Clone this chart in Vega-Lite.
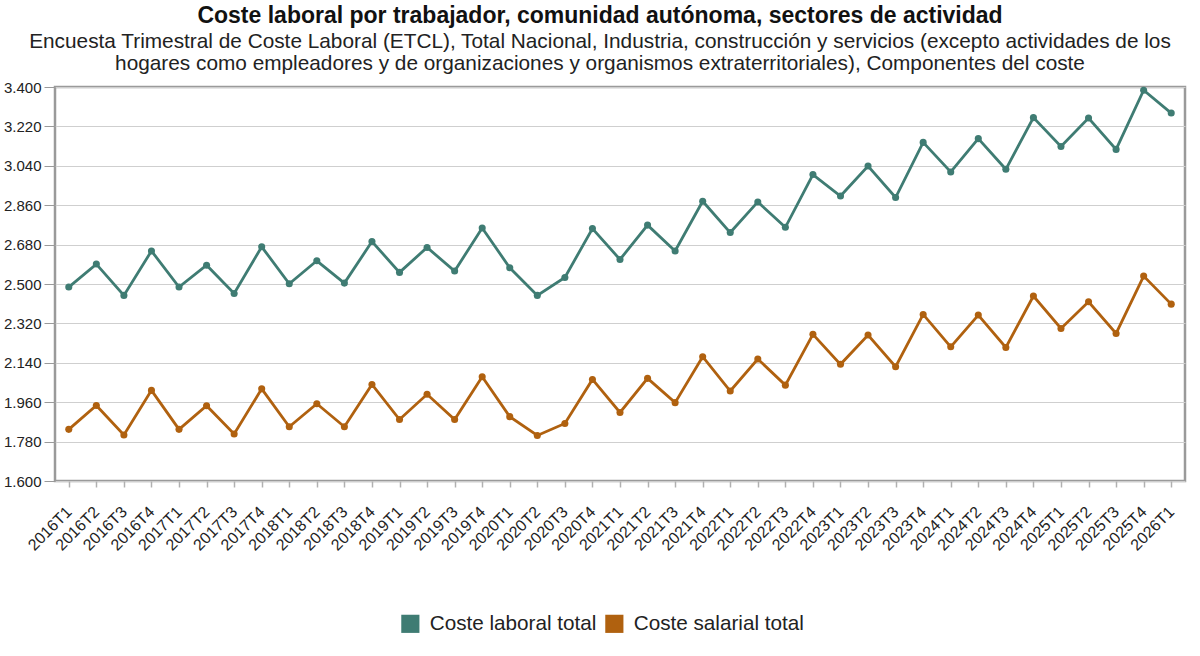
{
  "$schema": "https://vega.github.io/schema/vega-lite/v6.json",
  "width": 1130,
  "height": 394,
  "autosize": {"type": "none"},
  "padding": {"left": 55, "top": 87, "right": 15, "bottom": 175},
  "background": "#ffffff",
  "title": {
    "text": "Coste laboral por trabajador, comunidad autónoma, sectores de actividad",
    "subtitle": [
      "Encuesta Trimestral de Coste Laboral (ETCL), Total Nacional, Industria, construcción y servicios (excepto actividades de los",
      "hogares como empleadores y de organizaciones y organismos extraterritoriales), Componentes del coste"
    ],
    "anchor": "middle",
    "dx": -20,
    "offset": 6,
    "font": "Liberation Sans",
    "fontSize": 23,
    "fontWeight": "bold",
    "color": "#111111",
    "subtitleFont": "Liberation Sans",
    "subtitleFontSize": 20.8,
    "subtitleColor": "#222222",
    "subtitleLineHeight": 22,
    "subtitlePadding": 4
  },
  "config": {
    "view": {"stroke": "#9a9a9a", "strokeWidth": 2.5},
    "font": "Liberation Sans"
  },
  "data": {
    "values": [
      {"trimestre": "2016T1", "serie": "Coste laboral total", "valor": 2486},
      {"trimestre": "2016T2", "serie": "Coste laboral total", "valor": 2591},
      {"trimestre": "2016T3", "serie": "Coste laboral total", "valor": 2448},
      {"trimestre": "2016T4", "serie": "Coste laboral total", "valor": 2651},
      {"trimestre": "2017T1", "serie": "Coste laboral total", "valor": 2486},
      {"trimestre": "2017T2", "serie": "Coste laboral total", "valor": 2586},
      {"trimestre": "2017T3", "serie": "Coste laboral total", "valor": 2457},
      {"trimestre": "2017T4", "serie": "Coste laboral total", "valor": 2670},
      {"trimestre": "2018T1", "serie": "Coste laboral total", "valor": 2501},
      {"trimestre": "2018T2", "serie": "Coste laboral total", "valor": 2606},
      {"trimestre": "2018T3", "serie": "Coste laboral total", "valor": 2504},
      {"trimestre": "2018T4", "serie": "Coste laboral total", "valor": 2694},
      {"trimestre": "2019T1", "serie": "Coste laboral total", "valor": 2553},
      {"trimestre": "2019T2", "serie": "Coste laboral total", "valor": 2667},
      {"trimestre": "2019T3", "serie": "Coste laboral total", "valor": 2559},
      {"trimestre": "2019T4", "serie": "Coste laboral total", "valor": 2756},
      {"trimestre": "2020T1", "serie": "Coste laboral total", "valor": 2574},
      {"trimestre": "2020T2", "serie": "Coste laboral total", "valor": 2448},
      {"trimestre": "2020T3", "serie": "Coste laboral total", "valor": 2530},
      {"trimestre": "2020T4", "serie": "Coste laboral total", "valor": 2753},
      {"trimestre": "2021T1", "serie": "Coste laboral total", "valor": 2612},
      {"trimestre": "2021T2", "serie": "Coste laboral total", "valor": 2769},
      {"trimestre": "2021T3", "serie": "Coste laboral total", "valor": 2651},
      {"trimestre": "2021T4", "serie": "Coste laboral total", "valor": 2878},
      {"trimestre": "2022T1", "serie": "Coste laboral total", "valor": 2735},
      {"trimestre": "2022T2", "serie": "Coste laboral total", "valor": 2875},
      {"trimestre": "2022T3", "serie": "Coste laboral total", "valor": 2759},
      {"trimestre": "2022T4", "serie": "Coste laboral total", "valor": 3000},
      {"trimestre": "2023T1", "serie": "Coste laboral total", "valor": 2902},
      {"trimestre": "2023T2", "serie": "Coste laboral total", "valor": 3039},
      {"trimestre": "2023T3", "serie": "Coste laboral total", "valor": 2895},
      {"trimestre": "2023T4", "serie": "Coste laboral total", "valor": 3147},
      {"trimestre": "2024T1", "serie": "Coste laboral total", "valor": 3012},
      {"trimestre": "2024T2", "serie": "Coste laboral total", "valor": 3164},
      {"trimestre": "2024T3", "serie": "Coste laboral total", "valor": 3024},
      {"trimestre": "2024T4", "serie": "Coste laboral total", "valor": 3260},
      {"trimestre": "2025T1", "serie": "Coste laboral total", "valor": 3128},
      {"trimestre": "2025T2", "serie": "Coste laboral total", "valor": 3258},
      {"trimestre": "2025T3", "serie": "Coste laboral total", "valor": 3115},
      {"trimestre": "2025T4", "serie": "Coste laboral total", "valor": 3385},
      {"trimestre": "2026T1", "serie": "Coste laboral total", "valor": 3281},
      {"trimestre": "2016T1", "serie": "Coste salarial total", "valor": 1836},
      {"trimestre": "2016T2", "serie": "Coste salarial total", "valor": 1945},
      {"trimestre": "2016T3", "serie": "Coste salarial total", "valor": 1810},
      {"trimestre": "2016T4", "serie": "Coste salarial total", "valor": 2014},
      {"trimestre": "2017T1", "serie": "Coste salarial total", "valor": 1836},
      {"trimestre": "2017T2", "serie": "Coste salarial total", "valor": 1944},
      {"trimestre": "2017T3", "serie": "Coste salarial total", "valor": 1815},
      {"trimestre": "2017T4", "serie": "Coste salarial total", "valor": 2021},
      {"trimestre": "2018T1", "serie": "Coste salarial total", "valor": 1848},
      {"trimestre": "2018T2", "serie": "Coste salarial total", "valor": 1953},
      {"trimestre": "2018T3", "serie": "Coste salarial total", "valor": 1848},
      {"trimestre": "2018T4", "serie": "Coste salarial total", "valor": 2041},
      {"trimestre": "2019T1", "serie": "Coste salarial total", "valor": 1881},
      {"trimestre": "2019T2", "serie": "Coste salarial total", "valor": 1996},
      {"trimestre": "2019T3", "serie": "Coste salarial total", "valor": 1881},
      {"trimestre": "2019T4", "serie": "Coste salarial total", "valor": 2076},
      {"trimestre": "2020T1", "serie": "Coste salarial total", "valor": 1894},
      {"trimestre": "2020T2", "serie": "Coste salarial total", "valor": 1808},
      {"trimestre": "2020T3", "serie": "Coste salarial total", "valor": 1863},
      {"trimestre": "2020T4", "serie": "Coste salarial total", "valor": 2064},
      {"trimestre": "2021T1", "serie": "Coste salarial total", "valor": 1913},
      {"trimestre": "2021T2", "serie": "Coste salarial total", "valor": 2069},
      {"trimestre": "2021T3", "serie": "Coste salarial total", "valor": 1958},
      {"trimestre": "2021T4", "serie": "Coste salarial total", "valor": 2168},
      {"trimestre": "2022T1", "serie": "Coste salarial total", "valor": 2011},
      {"trimestre": "2022T2", "serie": "Coste salarial total", "valor": 2157},
      {"trimestre": "2022T3", "serie": "Coste salarial total", "valor": 2038},
      {"trimestre": "2022T4", "serie": "Coste salarial total", "valor": 2270},
      {"trimestre": "2023T1", "serie": "Coste salarial total", "valor": 2133},
      {"trimestre": "2023T2", "serie": "Coste salarial total", "valor": 2267},
      {"trimestre": "2023T3", "serie": "Coste salarial total", "valor": 2122},
      {"trimestre": "2023T4", "serie": "Coste salarial total", "valor": 2361},
      {"trimestre": "2024T1", "serie": "Coste salarial total", "valor": 2213},
      {"trimestre": "2024T2", "serie": "Coste salarial total", "valor": 2358},
      {"trimestre": "2024T3", "serie": "Coste salarial total", "valor": 2210},
      {"trimestre": "2024T4", "serie": "Coste salarial total", "valor": 2445},
      {"trimestre": "2025T1", "serie": "Coste salarial total", "valor": 2297},
      {"trimestre": "2025T2", "serie": "Coste salarial total", "valor": 2419},
      {"trimestre": "2025T3", "serie": "Coste salarial total", "valor": 2274},
      {"trimestre": "2025T4", "serie": "Coste salarial total", "valor": 2536},
      {"trimestre": "2026T1", "serie": "Coste salarial total", "valor": 2408}
    ]
  },
  "mark": {
    "type": "line",
    "strokeWidth": 2.8,
    "point": {"filled": true, "size": 50, "opacity": 1}
  },
  "encoding": {
    "x": {
      "field": "trimestre",
      "type": "ordinal",
      "sort": null,
      "title": null,
      "scale": {"paddingInner": 0, "paddingOuter": 0.5},
      "axis": {
        "labelAngle": -45,
        "labelAlign": "right",
        "labelBaseline": "middle",
        "labelPadding": 22,
        "labelFontSize": 16,
        "labelColor": "#222222",
        "labelFont": "Liberation Sans",
        "bandPosition": 0,
        "ticks": true,
        "tickSize": 6,
        "tickColor": "#b0b0b0",
        "tickWidth": 1.5,
        "domain": false,
        "grid": false
      }
    },
    "y": {
      "field": "valor",
      "type": "quantitative",
      "title": null,
      "scale": {"domain": [1600, 3400], "nice": false, "zero": false},
      "axis": {
        "values": [1600, 1780, 1960, 2140, 2320, 2500, 2680, 2860, 3040, 3220, 3400],
        "labelExpr": "replace(format(datum.value, ','), ',', '.')",
        "labelFontSize": 15,
        "labelColor": "#222222",
        "labelFont": "Liberation Sans",
        "labelPadding": 3,
        "tickSize": 11,
        "tickColor": "#9a9a9a",
        "tickWidth": 1,
        "domain": false,
        "grid": true,
        "gridColor": "#cfcfcf",
        "gridWidth": 1.2
      }
    },
    "color": {
      "field": "serie",
      "type": "nominal",
      "title": null,
      "scale": {
        "domain": ["Coste laboral total", "Coste salarial total"],
        "range": ["#3f7c73", "#b0610f"]
      },
      "legend": {
        "orient": "none",
        "direction": "horizontal",
        "legendX": 345,
        "legendY": 526,
        "symbolType": "square",
        "symbolSize": 330,
        "symbolStrokeWidth": 0,
        "symbolOpacity": 1,
        "labelFontSize": 20.7,
        "labelLimit": 400,
        "labelFont": "Liberation Sans",
        "labelColor": "#222222",
        "labelOffset": 9,
        "columnPadding": 7
      }
    }
  }
}
